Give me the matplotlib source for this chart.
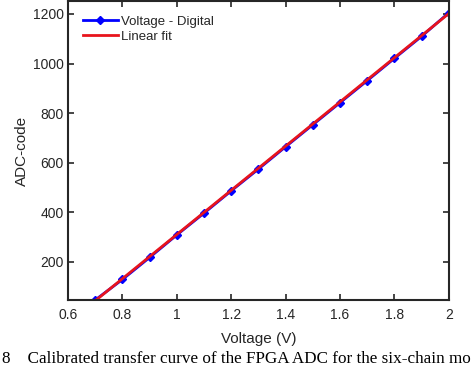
import matplotlib
matplotlib.use("Agg")
import matplotlib.pyplot as plt

voltage = [0.7, 0.8, 0.9, 1.0, 1.1, 1.2, 1.3, 1.4, 1.5, 1.6, 1.7, 1.8, 1.9, 2.0]
adc_code = [45, 128, 217, 308, 396, 486, 574, 664, 753, 842, 931, 1021, 1110, 1205]

# Linear fit end points
fit_v = [0.7, 2.0]
fit_code = [42, 1202]

xticks = [0.6, 0.8, 1.0, 1.2, 1.4, 1.6, 1.8, 2.0]
xtick_labels = ["0.6", "0.8", "1", "1.2", "1.4", "1.6", "1.8", "2"]
yticks = [200, 400, 600, 800, 1000, 1200]

plt.rcParams['font.family'] = ['Liberation Sans', 'DejaVu Sans']

fig = plt.figure(figsize=(4.74, 3.65), dpi=100)
ax = fig.add_axes([0.1435, 0.178, 0.8035, 0.819])

ax.plot(voltage, adc_code, color='#0000ff', lw=2, marker='D', markersize=4,
        label='Voltage - Digital')
ax.plot(fit_v, fit_code, color='#e8141c', lw=2, label='Linear fit')

ax.set_xlim(0.6, 2.0)
ax.set_ylim(45, 1252)
ax.set_xticks(xticks)
ax.set_xticklabels(xtick_labels)
ax.set_yticks(yticks)
ax.tick_params(direction='in', top=True, right=True, labelsize=10,
               colors='#262626', width=1.2, length=4)
ax.tick_params(axis='x', pad=6)
ax.tick_params(axis='y', pad=3)
for s in ax.spines.values():
    s.set_linewidth(1.5)
    s.set_color('#262626')

ax.set_xlabel('Voltage (V)', fontsize=11, color='#262626', labelpad=7)
ax.set_ylabel('ADC-code', fontsize=11, color='#262626', labelpad=3)

leg = ax.legend(loc='upper left', frameon=False, fontsize=9.5, handlelength=2.7,
                handletextpad=0.2, labelspacing=0.2, borderaxespad=0.7)
for t in leg.get_texts():
    t.set_color('#262626')

fig.text(0.005, 0.037, "8    Calibrated transfer curve of the FPGA ADC for the six-chain mo",
         fontsize=12.3, family=['Liberation Serif', 'DejaVu Serif'], va='top', ha='left')

fig.savefig('out.png', dpi=100)
